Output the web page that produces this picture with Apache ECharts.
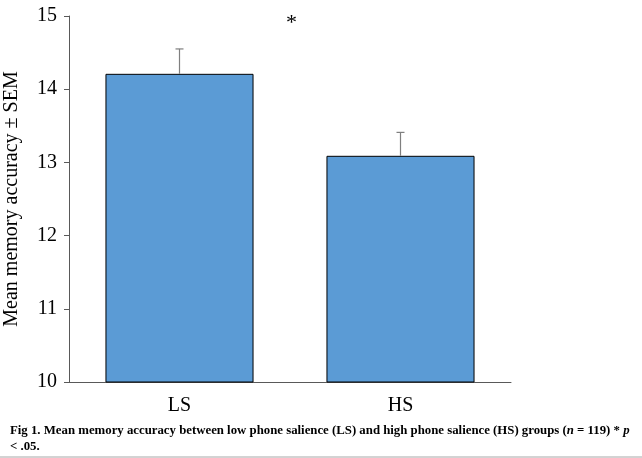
<!DOCTYPE html>
<html>
<head>
<meta charset="utf-8">
<script src="https://cdn.jsdelivr.net/npm/echarts@6/dist/echarts.min.js"></script>
<style>
html,body{margin:0;padding:0;background:#fff;}
#chart{width:642px;height:458px;}
</style>
</head>
<body>
<div id="chart"></div>
<script>
// data
var categories=['LS','HS'];
var means=[14.21,13.09];
var sem=[0.34,0.32];
var yTicks=[10,11,12,13,14,15];

var serif='"Liberation Serif","Times New Roman",serif';
var errData=categories.map(function(c,i){
	return [i,means[i],means[i]+sem[i]];
});

var mychart=echarts.init(document.getElementById('chart'));
var option={
	animation:false,
	grid:{left:69,right:131,top:16,bottom:76,containLabel:false,outerBoundsMode:'none'},
	xAxis:{
		type:'category',
		data:categories,
		axisLine:{lineStyle:{color:'#595959',width:1}},
		axisTick:{show:false},
		axisLabel:{color:'#000',fontFamily:serif,fontSize:20,margin:14}
	},
	yAxis:{
		type:'value',
		min:yTicks[0],
		max:yTicks[yTicks.length-1],
		interval:1,
		name:'Mean memory accuracy ± SEM',
		nameLocation:'middle',
		nameGap:47,
		nameTextStyle:{color:'#000',fontFamily:serif,fontSize:20},
		axisLine:{show:true,lineStyle:{color:'#595959',width:1}},
		axisTick:{show:true,length:5,lineStyle:{color:'#595959'}},
		axisLabel:{color:'#000',fontFamily:serif,fontSize:20,margin:12},
		splitLine:{show:false}
	},
	series:[
		{
			type:'bar',
			data:means,
			barWidth:'67%',
			itemStyle:{color:'#5B9BD5',borderColor:'#000',borderWidth:1}
		},
		{
			type:'custom',
			data:errData,
			z:3,
			renderItem:function(params,api){
				var base=api.coord([api.value(0),api.value(1)]);
				var top=api.coord([api.value(0),api.value(2)]);
				var hw=4;
				var st={stroke:'#7f7f7f',lineWidth:1.2};
				return {
					type:'group',
					children:[
						{type:'line',shape:{x1:base[0],y1:base[1],x2:top[0],y2:top[1]},style:st},
						{type:'line',shape:{x1:top[0]-hw,y1:top[1],x2:top[0]+hw,y2:top[1]},style:st}
					]
				};
			}
		}
	],
	graphic:[
		{type:'text',left:286,top:12,style:{text:'*',font:'22px '+serif,fill:'#000'}},
		{type:'text',left:10,top:424,style:{
			text:'{b|Fig 1. Mean memory accuracy between low phone salience (LS) and high phone salience (HS) groups (}{i|n}{b| = 119) * }{i|p}',
			rich:{
				b:{fontFamily:serif,fontWeight:'bold',fontSize:12.8,fill:'#000'},
				i:{fontFamily:serif,fontWeight:'bold',fontStyle:'italic',fontSize:12.8,fill:'#000'}
			}
		}},
		{type:'text',left:10,top:440,style:{text:'< .05.',font:'bold 12.8px '+serif,fill:'#000'}},
		{type:'line',shape:{x1:0,y1:457,x2:642,y2:457},style:{stroke:'#a6a6a6',lineWidth:1}}
	]
};
mychart.setOption(option);
</script>
</body>
</html>
